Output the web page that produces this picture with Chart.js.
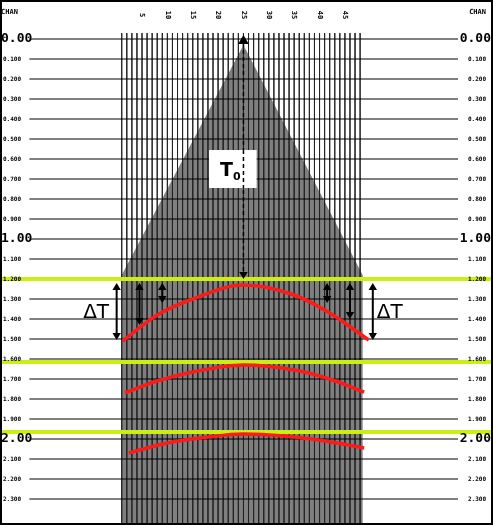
<!DOCTYPE html>
<html><head><meta charset="utf-8">
<script src="https://cdn.jsdelivr.net/npm/chart.js@4/dist/chart.umd.min.js"></script>
<style>html,body{margin:0;padding:0;background:#fff}#w{width:493px;height:525px}</style>
</head><body><div id="w"><canvas id="c"></canvas></div>
<script>
// Channels (traces) and time ticks
const channels = Array.from({length:48},(_,i)=>i+1);
const channelLabels = [5,10,15,20,25,30,35,40,45];
const timeTicks = [0,0.1,0.2,0.3,0.4,0.5,0.6,0.7,0.8,0.9,1.0,1.1,1.2,1.3,1.4,1.5,1.6,1.7,1.8,1.9,2.0,2.1,2.2,2.3];
const majorTicks = [0,1.0,2.0];
// Yellow horizontal event windows (s)
const yellowTimes = [1.20,1.615,1.965];
// Red hyperbolas: channel positions and times
const curveCh = [1.2,8,15,25,35,42,49.7];
const curve1 = [1.51,1.38,1.30,1.23,1.28,1.37,1.505];
const curve2ch = [1.6,8,15,25,35,42,48.8];
const curve2 = [1.77,1.71,1.665,1.63,1.655,1.70,1.765];
const curve3ch = [2.4,10,18,25,33,41,48.8];
const curve3 = [2.07,2.02,1.99,1.975,1.985,2.01,2.045];
// Dense wiggle region (channel, time)
const denseCh = [25,1,1,48.5,48.5];
const denseT = [0.03,1.18,2.45,2.45,1.18];
// ΔT double arrows: channel, top time, bottom time
const arrowCh = [0,4.5,9,41.5,46,50.5];
const arrowTop = [1.22,1.22,1.22,1.22,1.22,1.22];
const arrowBot = [1.505,1.43,1.32,1.32,1.40,1.505];

const pts=(xs,ys)=>xs.map((x,i)=>({x,y:ys[i]}));
const datasets=[];
// Chart.js draws earlier datasets on top: red first, traces last
[[curveCh,curve1],[curve2ch,curve2],[curve3ch,curve3]].forEach(([a,b])=>datasets.push({data:pts(a,b),showLine:true,borderColor:'#ff1a1a',borderWidth:3.5,pointRadius:0,cubicInterpolationMode:'monotone'}));
yellowTimes.forEach(t=>datasets.push({data:[{x:-24,y:t},{x:75,y:t}],showLine:true,borderColor:'#ccee11',borderWidth:4,pointRadius:0}));
timeTicks.forEach(t=>datasets.push({data:[{x:-17.2,y:t},{x:67.3,y:t}],showLine:true,borderColor:'#000',borderWidth:1.1,pointRadius:0}));
channels.forEach(c=>datasets.push({data:[{x:c,y:-0.03},{x:c,y:2.45}],showLine:true,borderColor:'#222',borderWidth:0.8,pointRadius:0}));

function arrowHead(ctx,x,y,dir,s){ctx.beginPath();ctx.moveTo(x,y);ctx.lineTo(x-s*0.6,y-dir*s);ctx.lineTo(x+s*0.6,y-dir*s);ctx.closePath();ctx.fill();}
const dense={id:'dense',beforeDatasetsDraw(ch){
 const ctx=ch.ctx,X=ch.scales.x,Y=ch.scales.y;ctx.save();ctx.fillStyle='rgba(35,35,35,0.58)';ctx.beginPath();
 denseCh.forEach((c,i)=>{const x=X.getPixelForValue(c),y=Y.getPixelForValue(denseT[i]);i?ctx.lineTo(x,y):ctx.moveTo(x,y);});
 ctx.closePath();ctx.fill();ctx.restore();}};
const deco={id:'deco',afterDatasetsDraw(ch){
 const ctx=ch.ctx,X=ch.scales.x,Y=ch.scales.y;ctx.save();
 ctx.fillStyle='#000';ctx.strokeStyle='#000';
 arrowCh.forEach((c,i)=>{const x=X.getPixelForValue(c),y0=Y.getPixelForValue(arrowTop[i]),y1=Y.getPixelForValue(arrowBot[i]);
  ctx.lineWidth=2;ctx.beginPath();ctx.moveTo(x,y0+5);ctx.lineTo(x,y1-5);ctx.stroke();arrowHead(ctx,x,y0,-1,7);arrowHead(ctx,x,y1,1,7);});
 const xc=X.getPixelForValue(25);ctx.lineWidth=1.5;ctx.setLineDash([4,3]);ctx.beginPath();ctx.moveTo(xc,Y.getPixelForValue(0.02));ctx.lineTo(xc,Y.getPixelForValue(1.17));ctx.stroke();ctx.setLineDash([]);
 arrowHead(ctx,xc,Y.getPixelForValue(-0.02),-1,9);arrowHead(ctx,xc,Y.getPixelForValue(1.2),1,7);
 const bx=X.getPixelForValue(18.2),by=Y.getPixelForValue(0.555),bw=X.getPixelForValue(27.6)-bx,bh=Y.getPixelForValue(0.745)-by;
 ctx.fillStyle='#fff';ctx.fillRect(bx,by,bw,bh);ctx.fillStyle='#000';
 ctx.font='bold 19px "DejaVu Sans"';ctx.textBaseline='alphabetic';ctx.fillText('T',bx+11,by+26);ctx.font='bold 11px "DejaVu Sans"';ctx.fillText('0',bx+24,by+30);
 ctx.lineWidth=1.5;ctx.setLineDash([4,3]);ctx.beginPath();ctx.moveTo(xc,by);ctx.lineTo(xc,by+bh);ctx.stroke();ctx.setLineDash([]);
 ctx.font='20px "DejaVu Sans"';ctx.textBaseline='middle';
 ctx.fillText('ΔT',X.getPixelForValue(-6.6),Y.getPixelForValue(1.37));ctx.fillText('ΔT',X.getPixelForValue(51.3),Y.getPixelForValue(1.37));
 timeTicks.forEach(t=>{const y=Y.getPixelForValue(t);const maj=majorTicks.includes(t);
  const s=maj?t.toFixed(2):t.toFixed(3);
  ctx.font=maj?'bold 13px "DejaVu Sans Mono"':'bold 6px "DejaVu Sans Mono"';
  ctx.textAlign='left';ctx.fillText(s,maj?1:3,y);ctx.textAlign='right';ctx.fillText(s,maj?491:486,y);});
 ctx.font='bold 7px "DejaVu Sans Mono"';ctx.textAlign='left';ctx.fillText('CHAN',1,12);ctx.textAlign='right';ctx.fillText('CHAN',486,12);
 ctx.font='bold 7px "DejaVu Sans Mono"';ctx.textAlign='center';
 channelLabels.forEach(c=>{const x=X.getPixelForValue(c);ctx.save();ctx.translate(x,15);ctx.rotate(Math.PI/2);ctx.fillText(String(c),0,0);ctx.restore();});
 ctx.lineWidth=2;ctx.strokeRect(1,1,ch.width-2,ch.height-2);
 ctx.restore();}};

new Chart(document.getElementById('c'),{type:'scatter',data:{datasets},
 options:{responsive:true,maintainAspectRatio:false,animation:false,layout:{padding:0},
  plugins:{legend:{display:false},tooltip:{enabled:false}},
  scales:{x:{type:'linear',min:-23,max:74.2,display:false},y:{type:'linear',min:-0.195,max:2.43,reverse:true,display:false}}},
 plugins:[dense,deco]});
</script></body></html>
